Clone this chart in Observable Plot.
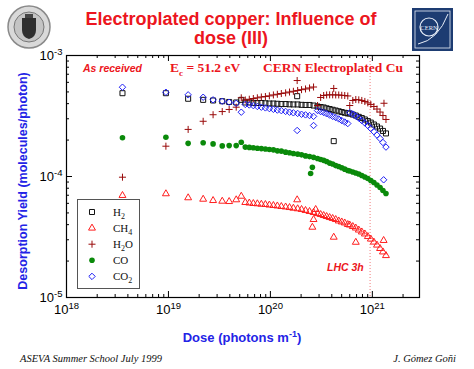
<!DOCTYPE html>
<html><head><meta charset="utf-8">
<script src="https://cdn.jsdelivr.net/npm/d3@7"></script>
<script src="https://cdn.jsdelivr.net/npm/@observablehq/plot@0.6"></script>
<style>
body{margin:0;background:#fff;}
#wrap{position:relative;width:474px;height:369px;overflow:hidden;background:#fff;}
#chart{position:absolute;left:0;top:0;}
#overlay{position:absolute;left:0;top:0;pointer-events:none;}
</style></head><body>
<div id="wrap"><div id="chart"></div></div>
<script>
// ---- data (dose in photons/m, yield in molecules/photon) ----
const dose = [3.54e18, 9.44e18, 1.56e19, 2.19e19, 2.74e19, 3.37e19, 3.94e19, 4.62e19, 5.18e19,
  5.67e19, 6.21e19, 6.80e19, 7.45e19, 8.15e19, 8.93e19, 9.77e19, 1.07e20, 1.17e20, 1.28e20, 1.41e20, 1.54e20, 1.68e20, 1.85e20, 2.02e20, 2.21e20, 2.42e20, 2.65e20,
  2.90e20, 3.11e20, 3.33e20, 3.56e20, 3.81e20, 4.08e20, 4.37e20, 4.68e20, 5.01e20, 5.36e20, 5.74e20,
  6.00e20, 6.43e20, 6.88e20, 7.36e20, 7.88e20, 8.44e20, 9.03e20, 9.66e20, 1.035e21, 1.11e21, 1.19e21, 1.27e21, 1.36e21];
const h2 = [4.88e-4, 4.88e-4, 4.39e-4, 4.30e-4, 4.25e-4, 4.19e-4, 4.13e-4, 4.09e-4, 4.30e-4,
  4.09e-4, 4.09e-4, 4.06e-4, 4.05e-4, 4.05e-4, 4.03e-4, 4.01e-4, 4.01e-4, 3.99e-4, 3.97e-4, 3.97e-4, 3.95e-4, 3.94e-4, 3.94e-4, 3.91e-4, 3.90e-4, 3.90e-4, 3.86e-4,
  3.79e-4, 3.75e-4, 3.72e-4, 3.66e-4, 3.61e-4, 3.56e-4, 3.51e-4, 3.46e-4, 3.41e-4, 3.36e-4, 3.32e-4,
  3.32e-4, 3.25e-4, 3.19e-4, 3.11e-4, 3.04e-4, 2.96e-4, 2.87e-4, 2.79e-4, 2.69e-4, 2.59e-4, 2.49e-4, 2.38e-4, 2.27e-4];
const ch4 = [6.97e-5, 7.20e-5, 6.67e-5, 6.49e-5, 6.33e-5, 6.25e-5, 6.21e-5, 6.42e-5, 6.87e-5,
  6.10e-5, 6.04e-5, 5.98e-5, 5.95e-5, 5.90e-5, 5.87e-5, 5.81e-5, 5.76e-5, 5.71e-5, 5.65e-5, 5.60e-5, 5.54e-5, 5.47e-5, 5.41e-5, 5.34e-5, 5.24e-5, 5.14e-5, 5.04e-5,
  4.94e-5, 4.85e-5, 4.76e-5, 4.67e-5, 4.58e-5, 4.50e-5, 4.41e-5, 4.29e-5, 4.21e-5, 4.13e-5, 4.01e-5,
  3.97e-5, 3.86e-5, 3.75e-5, 3.61e-5, 3.48e-5, 3.35e-5, 3.19e-5, 3.04e-5, 2.87e-5, 2.71e-5, 2.54e-5, 2.38e-5, 2.22e-5];
const h2o = [9.87e-5, 1.78e-4, 2.45e-4, 2.86e-4, 3.24e-4, 3.44e-4, 3.58e-4, 3.74e-4, 4.47e-4,
  4.29e-4, 4.35e-4, 4.41e-4, 4.47e-4, 4.54e-4, 4.58e-4, 4.64e-4, 4.72e-4, 4.78e-4, 4.85e-4, 4.91e-4, 4.99e-4, 5.06e-4, 5.14e-4, 5.22e-4, 5.29e-4, 5.39e-4, 5.49e-4,
  3.86e-4, 4.50e-4, 4.67e-4, 4.72e-4, 4.73e-4, 4.73e-4, 4.72e-4, 4.72e-4, 4.69e-4, 4.67e-4, 4.63e-4,
  3.86e-4, 4.25e-4, 4.33e-4, 4.30e-4, 4.25e-4, 4.17e-4, 4.06e-4, 3.94e-4, 3.79e-4, 3.61e-4, 3.41e-4, 3.19e-4, 2.96e-4];
const co = [2.09e-4, 2.11e-4, 1.88e-4, 1.90e-4, 1.86e-4, 1.79e-4, 1.80e-4, 1.80e-4, 1.92e-4,
  1.75e-4, 1.74e-4, 1.73e-4, 1.71e-4, 1.70e-4, 1.69e-4, 1.67e-4, 1.66e-4, 1.63e-4, 1.62e-4, 1.59e-4, 1.57e-4, 1.55e-4, 1.53e-4, 1.51e-4, 1.48e-4, 1.46e-4, 1.44e-4,
  1.41e-4, 1.38e-4, 1.36e-4, 1.33e-4, 1.29e-4, 1.27e-4, 1.23e-4, 1.21e-4, 1.18e-4, 1.15e-4, 1.12e-4,
  1.11e-4, 1.09e-4, 1.07e-4, 1.05e-4, 1.02e-4, 9.91e-5, 9.63e-5, 9.27e-5, 8.92e-5, 8.51e-5, 8.11e-5, 7.66e-5, 7.24e-5];
const co2 = [5.47e-4, 4.97e-4, 4.73e-4, 4.52e-4, 4.30e-4, 4.19e-4, 4.11e-4, 4.03e-4, 3.40e-4,
  3.94e-4, 3.90e-4, 3.85e-4, 3.79e-4, 3.74e-4, 3.69e-4, 3.64e-4, 3.59e-4, 3.54e-4, 3.50e-4, 3.45e-4, 3.40e-4, 3.36e-4, 3.32e-4, 3.27e-4, 3.23e-4, 3.19e-4, 3.14e-4,
  3.51e-4, 3.44e-4, 3.38e-4, 3.30e-4, 3.22e-4, 3.14e-4, 3.07e-4, 2.99e-4, 2.90e-4, 2.82e-4, 2.74e-4,
  3.38e-4, 3.28e-4, 3.16e-4, 3.04e-4, 2.90e-4, 2.77e-4, 2.64e-4, 2.49e-4, 2.35e-4, 2.20e-4, 2.06e-4, 1.91e-4, 1.75e-4];
// scattered single readings [dose, yield]
const h2Extra = [[1.83e20, 4.61e-4], [4.18e20, 1.96e-4]];
const ch4Extra = [[1.83e20, 6.42e-5], [2.58e20, 3.81e-5], [2.65e20, 4.41e-5], [2.78e20, 5.34e-5], [4.18e20, 3.15e-5], [6.88e20, 2.86e-5], [1.29e21, 2.96e-5]];
const h2oExtra = [[1.83e20, 6.21e-4], [4.18e20, 5.34e-4], [1.30e21, 4.03e-4]];
const coExtra = [[2.58e20, 1.19e-4], [2.48e20, 1.06e-4]];
const co2Extra = [[1.83e20, 2.40e-4], [2.65e20, 2.64e-4], [1.29e21, 9.39e-5]];
const lhcDose = [9.5e20];
const xTickLabels = [1e18, 1e19, 1e20, 1e21];
const yTickLabels = [1e-5, 1e-4, 1e-3];

// ---- layout ----
const W = 474, H = 369, mL = 66, mR = 55, mT = 55, mB = 72;
const fw = W - mL - mR, fh = H - mT - mB;
const xDomain = [1e18, 2.9e21], yDomain = [1e-5, 1e-3];

const gases = [
  {name: ["H", "2", ""], vals: h2, extra: h2Extra, color: "#111111", symbol: "square2", r: 3.2, filled: false},
  {name: ["CH", "4", ""], vals: ch4, extra: ch4Extra, color: "#ff1f1f", symbol: "triangle2", r: 3.3, filled: false},
  {name: ["H", "2", "O"], vals: h2o, extra: h2oExtra, color: "#990a0a", symbol: "plus", r: 2.4, filled: false},
  {name: ["CO", "", ""], vals: co, extra: coExtra, color: "#0a8a0a", symbol: "circle", r: 2.8, filled: true},
  {name: ["CO", "2", ""], vals: co2, extra: co2Extra, color: "#1f1ff5", symbol: "diamond2", r: 2.9, filled: false}
];
const rowsOf = g => dose.map((d, i) => ({dose: d, y: g.vals[i]}))
  .concat(g.extra.map(([d, y]) => ({dose: d, y})));

const xt = d3.scaleLog().domain(xDomain).ticks();
const yt = d3.scaleLog().domain(yDomain).ticks();
const isMajor = v => Math.abs(Math.log10(v) - Math.round(Math.log10(v))) < 1e-6;
const fmt = v => "10^" + Math.round(Math.log10(v));

const tickMarks = [];
for (const [arr, axis] of [[xt, "x"], [yt, "y"]]) {
  const maj = arr.filter(isMajor), min = arr.filter(v => !isMajor(v));
  for (const [set, len] of [[maj, 6], [min, 3]]) {
    if (axis === "x") {
      tickMarks.push(Plot.ruleX(set, {x: d => d, insetTop: fh - len, stroke: "#000"}));
      tickMarks.push(Plot.ruleX(set, {x: d => d, insetBottom: fh - len, stroke: "#000"}));
    } else {
      tickMarks.push(Plot.ruleY(set, {y: d => d, insetRight: fw - len, stroke: "#000"}));
      tickMarks.push(Plot.ruleY(set, {y: d => d, insetLeft: fw - len, stroke: "#000"}));
    }
  }
}

const plot = Plot.plot({
  width: W, height: H,
  marginLeft: mL, marginRight: mR, marginTop: mT, marginBottom: mB,
  style: {fontFamily: "'Liberation Sans', Arial, sans-serif", fontSize: "13px", color: "#000", background: "transparent"},
  x: {type: "log", domain: xDomain},
  y: {type: "log", domain: yDomain},
  marks: [
    Plot.ruleX(lhcDose, {x: d => d, stroke: "#f07a7a", strokeWidth: 1, strokeDasharray: "1,2"}),
    ...gases.map(g => Plot.dot(rowsOf(g), {
      x: "dose", y: "y", symbol: g.symbol, r: g.r,
      fill: g.filled ? g.color : "none",
      stroke: g.filled ? "none" : g.color,
      strokeWidth: 1
    })),
    Plot.frame({stroke: "#000", strokeWidth: 1.2}),
    ...tickMarks,
    Plot.axisX({ticks: xTickLabels, tickFormat: fmt, tickSize: 0, tickPadding: 7, fontSize: 13, label: null}),
    Plot.axisY({ticks: yTickLabels, tickFormat: fmt, tickSize: 0, tickPadding: 4, fontSize: 13, label: null})
  ]
});
document.getElementById("chart").appendChild(plot);

// superscript exponents in tick labels
d3.select(plot).selectAll("text").each(function() {
  const t = this.textContent, m = /^10\^(-?\d+)$/.exec(t);
  if (!m) return;
  const s = d3.select(this);
  s.text("");
  s.append("tspan").text("10");
  s.append("tspan").attr("dy", "-5").attr("font-size", "9.5px").text(m[1].replace("-", "-"));
});

// ---- overlay: titles, annotations, legend, logos ----
const ov = d3.select("#wrap").append("svg").attr("id", "overlay").attr("width", W).attr("height", H);
const sans = "'Liberation Sans', Arial, sans-serif", serif = "'Liberation Serif', 'Times New Roman', serif";
const red = "#ec1520", blue = "#2323e6";

// logos (decorative)
const seal = ov.append("g");
seal.append("circle").attr("cx", 29).attr("cy", 27).attr("r", 21).attr("fill", "#d9d9d9").attr("stroke", "#8a8a8a").attr("stroke-width", 1.5);
seal.append("circle").attr("cx", 29).attr("cy", 27).attr("r", 15).attr("fill", "#c4c4c4").attr("stroke", "#777").attr("stroke-width", 1);
seal.append("path").attr("d", "M22,18 L36,18 L36,30 Q36,37 29,39 Q22,37 22,30 Z").attr("fill", "#2e2e2e");
seal.append("rect").attr("x", 25).attr("y", 14).attr("width", 8).attr("height", 4).attr("fill", "#444");
const cern = ov.append("g");
cern.append("rect").attr("x", 412).attr("y", 8).attr("width", 41).attr("height", 43).attr("fill", "#1d3c72");
cern.append("rect").attr("x", 415).attr("y", 11).attr("width", 35).attr("height", 37).attr("fill", "none").attr("stroke", "#e8eef8").attr("stroke-width", 0.8);
cern.append("circle").attr("cx", 429).attr("cy", 27).attr("r", 9).attr("fill", "none").attr("stroke", "#e8eef8").attr("stroke-width", 1.2);
cern.append("path").attr("d", "M418,44 Q438,40 448,14").attr("fill", "none").attr("stroke", "#e8eef8").attr("stroke-width", 1);
cern.append("text").attr("x", 429).attr("y", 30).attr("text-anchor", "middle").attr("font-family", serif).attr("font-size", 6.5).attr("fill", "#e8eef8").text("CERN");

// title
ov.append("text").attr("x", 231).attr("y", 25).attr("text-anchor", "middle").attr("font-family", sans).attr("font-weight", "bold").attr("font-size", 18).attr("fill", red).text("Electroplated copper: Influence of");
ov.append("text").attr("x", 231).attr("y", 43.5).attr("text-anchor", "middle").attr("font-family", sans).attr("font-weight", "bold").attr("font-size", 18).attr("fill", red).text("dose (III)");

// axis titles
ov.append("text").attr("transform", "translate(27,181) rotate(-90)").attr("text-anchor", "middle").attr("font-family", sans).attr("font-weight", "bold").attr("font-size", 12.5).attr("fill", blue).text("Desorption Yield (molecules/photon)");
const xl = ov.append("text").attr("x", 242).attr("y", 342).attr("text-anchor", "middle").attr("font-family", sans).attr("font-weight", "bold").attr("font-size", 13).attr("fill", blue);
xl.append("tspan").text("Dose (photons m");
xl.append("tspan").attr("dy", -5).attr("font-size", 9).text("-1");
xl.append("tspan").attr("dy", 5).text(")");

// annotations
ov.append("text").attr("x", 83).attr("y", 72).attr("font-family", sans).attr("font-weight", "bold").attr("font-style", "italic").attr("font-size", 10.5).attr("fill", red).text("As received");
const ec = ov.append("text").attr("x", 170).attr("y", 72).attr("font-family", serif).attr("font-weight", "bold").attr("font-size", 13.5).attr("fill", red);
ec.append("tspan").text("E");
ec.append("tspan").attr("dy", 4).attr("font-size", 9).text("c");
ec.append("tspan").attr("dy", -4).text(" = 51.2 eV");
ov.append("text").attr("x", 263).attr("y", 72).attr("font-family", serif).attr("font-weight", "bold").attr("font-size", 13.5).attr("fill", red).text("CERN Electroplated Cu");
ov.append("text").attr("x", 327).attr("y", 271).attr("font-family", sans).attr("font-weight", "bold").attr("font-style", "italic").attr("font-size", 10.5).attr("fill", red).text("LHC 3h");

// footer
ov.append("text").attr("x", 20).attr("y", 362).attr("font-family", serif).attr("font-style", "italic").attr("font-size", 10.5).attr("fill", "#111").text("ASEVA Summer School July 1999");
ov.append("text").attr("x", 456).attr("y", 362).attr("text-anchor", "end").attr("font-family", serif).attr("font-style", "italic").attr("font-size", 10.5).attr("fill", "#111").text("J. Gómez Goñi");

// legend
const lg = ov.append("g");
lg.append("rect").attr("x", 77.5).attr("y", 199.5).attr("width", 62).attr("height", 89).attr("fill", "#fff").attr("stroke", "#555").attr("stroke-width", 1);
const symMap = {square2: d3.symbolSquare2, triangle2: d3.symbolTriangle2, plus: d3.symbolPlus, circle: d3.symbolCircle, diamond2: d3.symbolDiamond2};
gases.forEach((g, i) => {
  const cy = 212 + i * 16.1;
  lg.append("path").attr("transform", `translate(92,${cy})`)
    .attr("d", d3.symbol(symMap[g.symbol], g.r * g.r * Math.PI)())
    .attr("fill", g.filled ? g.color : "none").attr("stroke", g.filled ? "none" : g.color).attr("stroke-width", 1);
  const t = lg.append("text").attr("x", 113).attr("y", cy + 3.5).attr("font-family", serif).attr("font-size", 11).attr("fill", "#111");
  t.append("tspan").text(g.name[0]);
  if (g.name[1]) t.append("tspan").attr("dy", 3).attr("font-size", 8).text(g.name[1]);
  if (g.name[2]) t.append("tspan").attr("dy", -3).text(g.name[2]);
});
</script>
</body></html>
